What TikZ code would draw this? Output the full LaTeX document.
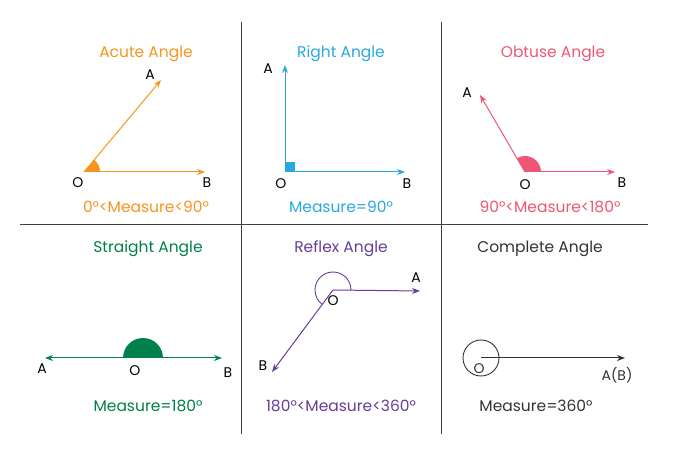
\documentclass[tikz,border=0pt]{standalone}
\usepackage{fontspec}
\setmainfont{Poppins}
\usetikzlibrary{arrows.meta}
\definecolor{cor}{HTML}{F7941D}
\definecolor{cbl}{HTML}{29A8E0}
\definecolor{cpk}{HTML}{EF5675}
\definecolor{cgr}{HTML}{00804A}
\definecolor{cpu}{HTML}{663D99}
\definecolor{cdk}{HTML}{333333}
\tikzset{ray/.style={line width=1pt,-{Stealth[length=8pt,width=6pt]}},
 lbl/.style={font=\fontsize{14}{16}\selectfont},
 ttl/.style={font=\fontsize{15.5}{18}\selectfont}}
\begin{document}
\begin{tikzpicture}[x=1pt,y=-1pt]
\useasboundingbox (0,0) rectangle (681,454);
\draw[black!75,line width=0.8pt] (241,22)--(241,434) (441,22)--(441,434) (20,224)--(648,224);
% Acute
\begin{scope}[cor]
\coordinate (o1) at (84,172); \coordinate (b1) at (205,172); \coordinate (a1) at (161,80);
\fill (o1) -- ++(0:16) arc[start angle=0,end angle=-50,radius=16] -- cycle;
\draw[ray] (o1)--(b1); \draw[ray] (o1)--(a1);
\node[ttl] (t1) at (146,54) {Acute Angle};
\node[ttl] (m1) at (146,207) {0°<Measure<90°};
\end{scope}
\node[lbl] (la1) at (150,75) {A}; \node[lbl] (lo1) at (78,183) {O}; \node[lbl] (lb1) at (207,183) {B};
% Right
\begin{scope}[cbl]
\coordinate (o2) at (285,172);
\fill (o2) rectangle ++(10,-10);
\draw[ray] (o2)--(285,65); \draw[ray] (o2)--(405,172);
\node[ttl] (t2) at (341,54) {Right Angle};
\node[ttl] (m2) at (341,207) {Measure=90°};
\end{scope}
\node[lbl] (la2) at (268,69) {A}; \node[lbl] (lo2) at (281,184) {O}; \node[lbl] (lb2) at (407,184) {B};
% Obtuse
\begin{scope}[cpk]
\coordinate (o3) at (525,172);
\fill (o3) -- ++(0:16) arc[start angle=0,end angle=-120,radius=16] -- cycle;
\draw[ray] (o3)--(615,172); \draw[ray] (o3)--(480,95);
\node[ttl] (t3) at (553,54) {Obtuse Angle};
\node[ttl] (m3) at (550,207) {90°<Measure<180°};
\end{scope}
\node[lbl] (la3) at (467,93) {A}; \node[lbl] (lo3) at (525,185) {O}; \node[lbl] (lb3) at (622,183) {B};
% Straight
\begin{scope}[cgr]
\coordinate (o4) at (143,358);
\fill (o4) -- ++(20,0) arc[start angle=0,end angle=-180,radius=20] -- cycle;
\draw[line width=1pt,{Stealth[length=8pt,width=6pt]}-{Stealth[length=8pt,width=6pt]}] (45,358)--(222,358);
\node[ttl] (t4) at (148,249) {Straight Angle};
\node[ttl] (m4) at (148,406) {Measure=180°};
\end{scope}
\node[lbl] (la4) at (42,369) {A}; \node[lbl] (lo4) at (135,371) {O}; \node[lbl] (lb4) at (228,373) {B};
% Reflex
\begin{scope}[cpu]
\coordinate (o5) at (333,290);
\draw[line width=0.9pt] (o5) ++(18,0) arc[start angle=0,end angle=-233,radius=18];
\draw[ray] (o5)--(420,291); \draw[ray] (o5)--(272,372);
\node[ttl] (t5) at (341,249) {Reflex Angle};
\node[ttl] (m5) at (341,406) {180°<Measure<360°};
\end{scope}
\node[lbl] (la5) at (416,278) {A}; \node[lbl] (lo5) at (333,301) {O}; \node[lbl] (lb5) at (263,366) {B};
% Complete
\begin{scope}[cdk]
\coordinate (o6) at (481,358);
\draw[line width=0.9pt] (o6) circle[radius=18];
\draw[ray] (o6)--(625,358);
\node[ttl] (t6) at (540,249) {Complete Angle};
\node[ttl] (m6) at (536,406) {Measure=360°};
\node[lbl] (lo6) at (479,369) {O}; \node[lbl] (lb6) at (617,375) {A(B)};
\end{scope}
\end{tikzpicture}
\end{document}
